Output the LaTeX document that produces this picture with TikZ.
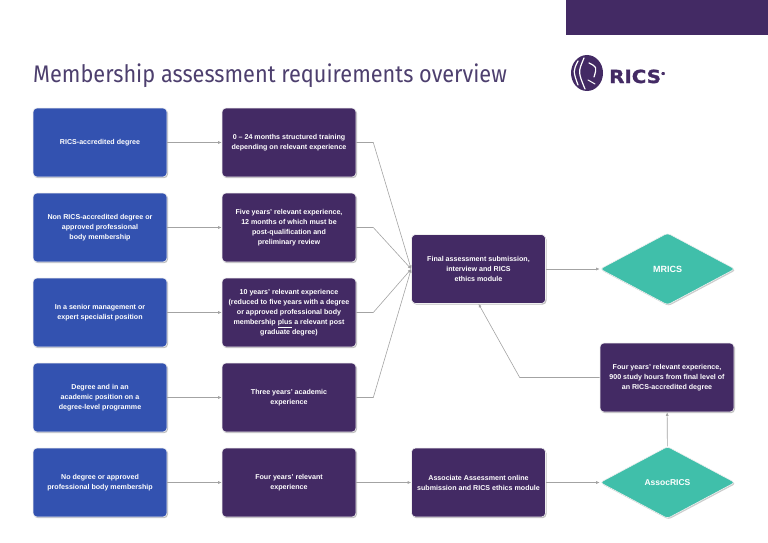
\documentclass[tikz,border=0pt]{standalone}
\usepackage{fontspec}
\setmainfont{Liberation Sans}
\newfontfamily\titlefont[FakeStretch=0.905]{Fira Sans}
\newfontfamily\logofont[FakeStretch=1.1, UprightFeatures={FakeBold=1.6}]{DejaVu Sans Bold}
\usepackage{xcolor}
\usepackage{tikz}
\usetikzlibrary{shapes,arrows,positioning,calc,shadows,arrows.meta}

\definecolor{ricsblue}{HTML}{3352B0}
\definecolor{ricspurple}{HTML}{432A64}
\definecolor{ricsteal}{HTML}{40BFAA}
\definecolor{titlepurple}{HTML}{4D3F6E}
\definecolor{linegray}{HTML}{A3A3A3}

\tikzset{
  basebox/.style={rounded corners=4pt, minimum width=134pt, minimum height=69pt,
    text=white, align=center, inner sep=2pt, draw=white!88!gray, line width=0.6pt,
    font=\bfseries\fontsize{7.1}{10}\selectfont,
    drop shadow={shadow xshift=1pt, shadow yshift=-1.2pt, opacity=0.25, fill=black}},
  startbox/.style={basebox, fill=ricsblue},
  stepbox/.style={basebox, fill=ricspurple},
  goal/.style={diamond, fill=ricsteal, draw=white!88!gray, line width=0.6pt,
    minimum width=135pt, minimum height=72pt, inner sep=0pt, rounded corners=3pt,
    text=white, font=\bfseries\fontsize{9}{11}\selectfont,
    drop shadow={shadow xshift=1pt, shadow yshift=-1.2pt, opacity=0.2, fill=black}},
  link/.style={draw=linegray, line width=0.6pt, -{Latex[length=3.5pt,width=3pt]}}
}

\begin{document}
\begin{tikzpicture}[x=1pt,y=-1pt]
    \useasboundingbox (0,0) rectangle (768,543);
    % header band and title
    \fill [ricspurple] (566,0) rectangle (768,35);
    \node [anchor=base west, inner sep=0pt, text=titlepurple, font=\titlefont\fontsize{24}{28}\selectfont] (title) at (33,82) {Membership assessment requirements overview};
    % logo
    \fill [ricspurple] (587,73) ellipse (16pt and 18pt);
    \draw [white, line width=1.2pt, line cap=round] (578,61) .. controls (573,71) .. (578,85);
    \draw [white, line width=1.2pt, line cap=round] (584,58) .. controls (578,72) .. (585,89);
    \draw [white, line width=1.2pt, line cap=round] (589,63) .. controls (597,67) .. (594,77);
    \draw [white, line width=1pt, line cap=round] (588,80) -- (595,84);
    \node [anchor=base west, inner sep=0pt, text=ricspurple, font=\logofont\fontsize{18}{20}\selectfont] (rics) at (609,83) {RICS\raisebox{8pt}{\fontsize{4}{4}\selectfont\textregistered}};

    % routes
    \node [startbox] (deg) at (100,142.5) {RICS-accredited degree};
    \node [startbox] (nondeg) at (100,227.5) {Non RICS-accredited degree or\\approved professional\\body membership};
    \node [startbox] (senior) at (100,312.5) {In a senior management or\\expert specialist position};
    \node [startbox] (acad) at (100,397.5) {Degree and in an\\academic position on a\\degree-level programme};
    \node [startbox] (nodeg) at (100,482.5) {No degree or approved\\professional body membership};

    \node [stepbox] (train) at (289,142.5) {0 -- 24 months structured training\\depending on relevant experience};
    \node [stepbox] (fiveyr) at (289,227.5) {Five years' relevant experience,\\12 months of which must be\\post-qualification and\\preliminary review};
    \node [stepbox] (tenyr) at (289,312.5) {10 years' relevant experience\\(reduced to five years with a degree\\or approved professional body\\membership \underline{plus} a relevant post\\graduate degree)};
    \node [stepbox] (threeyr) at (289,397.5) {Three years' academic\\experience};
    \node [stepbox] (fouryr) at (289,482.5) {Four years' relevant\\experience};

    \node [stepbox] (final) at (478.5,269) {Final assessment submission,\\interview and RICS\\ethics module};
    \node [stepbox] (assess) at (478.5,482.5) {Associate Assessment online\\submission and RICS ethics module};

    \node [goal] (mrics) at (667.5,269) {MRICS};
    \node [stepbox] (study) at (667,377.5) {Four years' relevant experience,\\900 study hours from final level of\\an RICS-accredited degree};
    \node [goal, font=\bfseries\fontsize{8.5}{10}\selectfont] (assoc) at (667.5,482.5) {AssocRICS};

    % connectors
    \foreach \a/\b in {deg/train, nondeg/fiveyr, senior/tenyr, acad/threeyr, nodeg/fouryr}
        \draw [link] (\a) -- (\b);
    \foreach \a in {train, fiveyr, tenyr, threeyr}
        \draw [link] (\a.east) -- ++(17,0) -- (final.west);
    \draw [link] (fouryr) -- (assess);
    \draw [link] (final) -- (mrics);
    \draw [link] (assess) -- (assoc);
    \draw [link] (assoc) -- (study);
    \draw [link] (study.west) -- ++(-80,0) -- (final.south);
\end{tikzpicture}
\end{document}
